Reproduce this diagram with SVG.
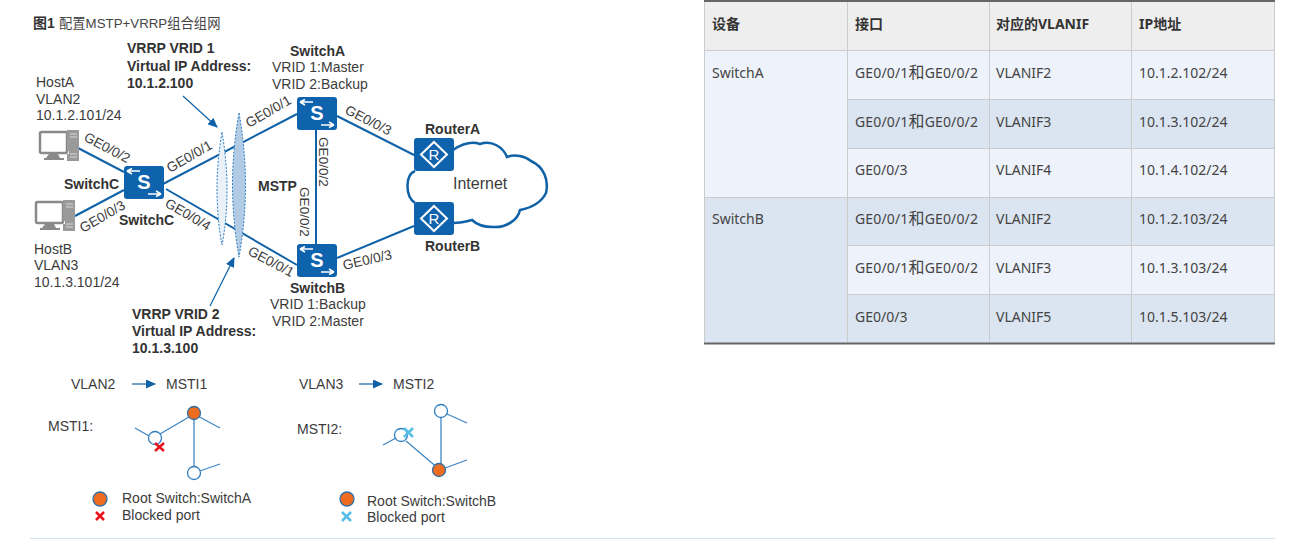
<svg xmlns="http://www.w3.org/2000/svg" width="1293" height="539" viewBox="0 0 1293 539">
<style>
text{font-family:"Liberation Sans",Arial,"Noto Sans CJK SC",sans-serif;font-size:14px;fill:#3c3c3c}
.b{font-weight:bold;fill:#333}
.p{font-size:13.600px}
.link{stroke:#0f62a8;stroke-width:2;fill:none}
.thin{stroke:#3f87c4;stroke-width:1.3;fill:none}
.lead{stroke:#0f62a8;stroke-width:1.200;fill:none}
.node{fill:#0f62ac}
.wa{stroke:#fff;stroke-width:1.500;fill:none}
.si{font-size:20px;font-weight:bold;fill:#fff;text-anchor:middle}
.ri{font-size:15px;fill:#fff;text-anchor:middle}
.open{fill:#fff;stroke:#2f7fc0;stroke-width:1.300}
.root{fill:#ee6c1f;stroke:#2f6fa8;stroke-width:1.300}
.t{font-family:"Noto Sans","Noto Sans CJK SC",sans-serif;font-size:14px;fill:#444}
.ge{letter-spacing:.15px}
.he{font-size:16px}
.th{font-family:"Noto Sans","Noto Sans CJK SC",sans-serif;font-size:14px;font-weight:bold;fill:#333}
.g{stroke:#ccc;stroke-width:1;fill:none}
</style>
<defs>
<g id="sw"><rect width="40" height="33" rx="3" class="node"/><path class="wa" d="M3 5H16M3 5L8 2.500M3 5L8 8M24 28H37M37 28L32 25M37 28L32 30.500"/><text x="20" y="23" class="si">S</text></g>
<g id="rt"><rect width="40" height="33" rx="3" class="node"/><path d="M20 4L33 16.500L20 29L7 16.500Z" stroke="#fff" stroke-width="2" fill="none"/><text x="20" y="22" class="ri">R</text></g>
<g id="pc"><rect x="1" y="2" width="27" height="21" rx="1.500" fill="#fff" stroke="#8a8a8a" stroke-width="2.500"/><path d="M10 24h9l2 4H7z" fill="#8a8a8a"/><path d="M5 29H25" stroke="#8a8a8a" stroke-width="2"/><path d="M28 0h12v31H28V24h2V21H28z" fill="#9a9a9a"/><path d="M31 4h7M31 7h7M31 24h7M31 27h7" stroke="#d8d8d8" stroke-width="1"/></g>
<marker id="ah" markerWidth="10" markerHeight="9" refX="9" refY="4.500" orient="auto" markerUnits="userSpaceOnUse"><path d="M0 0L10 4.500L0 9Z" fill="#0f62a8"/></marker>
</defs>
<rect width="1293" height="539" fill="#fff"/>
<text x="33" y="28" class="b">图1</text><text x="59" y="28" style="font-size:13.300px;fill:#444">配置MSTP+VRRP组合组网</text>

<g id="connectors">
<path class="link" d="M78 148L124 172M75 216L124 190M163 184L297 114M166 189L297 265M316 129V244M337 116L414 155M337 258L414 226"/>
<path class="lead" d="M183 96L217 127" marker-end="url(#ah)"/>
<path class="lead" d="M210 306L234 258" marker-end="url(#ah)"/>
</g>
<g id="vrid1"><path d="M222 132C225 150 227 170 227 188C227 210 225 230 222 245C219 230 217 210 217 188C217 170 219 150 222 132Z" fill="#eaf1f9" stroke="#2f7fc0" stroke-width="1" stroke-dasharray="2 1.500"/></g>
<g id="vrid2"><path d="M239 113C243 135 245.500 160 245.500 185C245.500 210 243 235 239 257C235 235 232.500 210 232.500 185C232.500 160 235 135 239 113Z" fill="#b2cbe5" stroke="#2f7fc0" stroke-width="1" stroke-dasharray="2 1.500"/></g>

<g id="hostA"><use href="#pc" x="39" y="130"/><text x="36" y="87">HostA</text><text x="36" y="104">VLAN2</text><text x="36" y="120">10.1.2.101/24</text></g>
<g id="hostB"><use href="#pc" x="35" y="200"/><text x="34" y="254">HostB</text><text x="34" y="270">VLAN3</text><text x="34" y="287">10.1.3.101/24</text></g>
<g id="switchC"><use href="#sw" x="124" y="166"/><text x="64" y="189" class="b">SwitchC</text><text x="119" y="225" class="b">SwitchC</text></g>
<g id="switchA"><use href="#sw" x="297" y="97"/><text x="290" y="56" class="b">SwitchA</text><text x="272" y="72">VRID 1:Master</text><text x="272" y="89">VRID 2:Backup</text></g>
<g id="switchB"><use href="#sw" x="297" y="244"/><text x="290" y="293" class="b">SwitchB</text><text x="270" y="309">VRID 1:Backup</text><text x="272" y="326">VRID 2:Master</text></g>
<g id="internet"><path d="M453 150C462 144 471 141 480 144C492 140 503 147 507 157C515 154 525 156 531 161C544 167 549 180 546 193C541 203 530 208 520 210C518 220 506 228 493 227C483 227 476 224 472 220C465 222 459 223 453 223M415 171C405 175 405 196 415 203" fill="#fff" stroke="#0f62a8" stroke-width="2.500"/><text x="453" y="189" style="font-size:16px">Internet</text></g>
<g id="routerA"><use href="#rt" x="414" y="138"/><text x="425" y="134" class="b">RouterA</text></g>
<g id="routerB"><use href="#rt" x="414" y="202"/><text x="425" y="251" class="b">RouterB</text></g>

<g id="labels">
<text class="b" x="127" y="53">VRRP VRID 1</text><text class="b" x="127" y="71">Virtual IP Address:</text><text class="b" x="127" y="88">10.1.2.100</text>
<text class="b" x="132" y="319">VRRP VRID 2</text><text class="b" x="132" y="336">Virtual IP Address:</text><text class="b" x="132" y="353">10.1.3.100</text>
<text class="b" x="258" y="191">MSTP</text>
<text class="p" transform="translate(83 140) rotate(28)">GE0/0/2</text>
<text class="p" transform="translate(83 233) rotate(-30)">GE0/0/3</text>
<text class="p" transform="translate(170 173) rotate(-30)">GE0/0/1</text>
<text class="p" transform="translate(164 206) rotate(30)">GE0/0/4</text>
<text class="p" transform="translate(249 128) rotate(-30)">GE0/0/1</text>
<text class="p" transform="translate(247 254) rotate(28)">GE0/0/1</text>
<text class="p" transform="translate(344 113) rotate(27)">GE0/0/3</text>
<text class="p" transform="translate(344 270) rotate(-13)">GE0/0/3</text>
<text class="p" transform="translate(319 137) rotate(90)">GE0/0/2</text>
<text class="p" transform="translate(300 187) rotate(90)">GE0/0/2</text>
</g>

<g id="mstiLegend1">
<text x="71" y="389">VLAN2</text><path class="lead" d="M132 384H155" marker-end="url(#ah)"/><text x="166" y="389">MSTI1</text>
<text x="48" y="431">MSTI1:</text>
<path class="thin" d="M135 428L149 436M160 434L194 414M194 414V470M194 414L220 428M194 473L220 464"/>
<circle class="open" cx="155" cy="438" r="6.500"/><circle class="root" cx="194" cy="413" r="6.500"/><circle class="open" cx="194" cy="473" r="6.500"/>
<path d="M155 443L164 451M164 443L155 451" stroke="#e8141c" stroke-width="2.500" fill="none"/>
<circle class="root" cx="100" cy="499" r="7"/><path d="M96 512L104 520M104 512L96 520" stroke="#e8141c" stroke-width="2.500" fill="none"/>
<text x="122" y="503">Root Switch:SwitchA</text><text x="122" y="520">Blocked port</text>
</g>
<g id="mstiLegend2">
<text x="299" y="389">VLAN3</text><path class="lead" d="M359 384H382" marker-end="url(#ah)"/><text x="393" y="389">MSTI2</text>
<text x="297" y="434">MSTI2:</text>
<path class="thin" d="M383 445L396 438M406 441L439 469M441 412V469M447 414L467 423M445 468L467 460"/>
<circle class="open" cx="401" cy="435" r="6.500"/><circle class="open" cx="441" cy="411" r="6.500"/><circle class="root" cx="439" cy="470" r="6.500"/>
<path d="M404 428L413 437M413 428L404 437" stroke="#55bde6" stroke-width="2.500" fill="none"/>
<circle class="root" cx="347" cy="499" r="7"/><path d="M342 512L351 521M351 512L342 521" stroke="#55bde6" stroke-width="2.500" fill="none"/>
<text x="367" y="506">Root Switch:SwitchB</text><text x="367" y="522">Blocked port</text>
</g>

<g id="table">
<rect x="704.500" y="2" width="570" height="48.500" fill="#eee"/>
<rect x="704.500" y="50.500" width="570" height="147" fill="#eef3fb"/>
<rect x="847.500" y="99.300" width="427" height="49" fill="#dbe5f1"/>
<rect x="704.500" y="197.500" width="570" height="146" fill="#dbe5f1"/>
<rect x="847.500" y="245.500" width="427" height="49" fill="#eef3fb"/>
<path class="g" d="M704.500 2V343M847.500 2V343M989.500 2V343M1131.500 2V343M1274.500 2V343M704.500 50.500H1274.500M847.500 99.500H1274.500M847.500 148.500H1274.500M704.500 197.500H1274.500M847.500 245.500H1274.500M847.500 294.500H1274.500"/>
<path d="M704 1H1275M704 343.500H1275" stroke="#666" stroke-width="2" fill="none"/>
<text class="th" x="712" y="29">设备</text><text class="th" x="855" y="29">接口</text><text class="th" x="996" y="29">对应的VLANIF</text><text class="th" x="1139" y="29">IP地址</text>
<text class="t" x="712" y="78">SwitchA</text><text class="t" x="712" y="224">SwitchB</text>
<text class="t ge" x="855" y="78">GE0/0/1<tspan class="he">和</tspan>GE0/0/2</text><text class="t" x="996" y="78">VLANIF2</text><text class="t" x="1139" y="78">10.1.2.102/24</text>
<text class="t ge" x="855" y="127">GE0/0/1<tspan class="he">和</tspan>GE0/0/2</text><text class="t" x="996" y="127">VLANIF3</text><text class="t" x="1139" y="127">10.1.3.102/24</text>
<text class="t" x="855" y="175">GE0/0/3</text><text class="t" x="996" y="175">VLANIF4</text><text class="t" x="1139" y="175">10.1.4.102/24</text>
<text class="t ge" x="855" y="224">GE0/0/1<tspan class="he">和</tspan>GE0/0/2</text><text class="t" x="996" y="224">VLANIF2</text><text class="t" x="1139" y="224">10.1.2.103/24</text>
<text class="t ge" x="855" y="273">GE0/0/1<tspan class="he">和</tspan>GE0/0/2</text><text class="t" x="996" y="273">VLANIF3</text><text class="t" x="1139" y="273">10.1.3.103/24</text>
<text class="t" x="855" y="322">GE0/0/3</text><text class="t" x="996" y="322">VLANIF5</text><text class="t" x="1139" y="322">10.1.5.103/24</text>
</g>
<path d="M30 538.500H1275" stroke="#cfe2f3" stroke-width="1" fill="none"/>
</svg>
